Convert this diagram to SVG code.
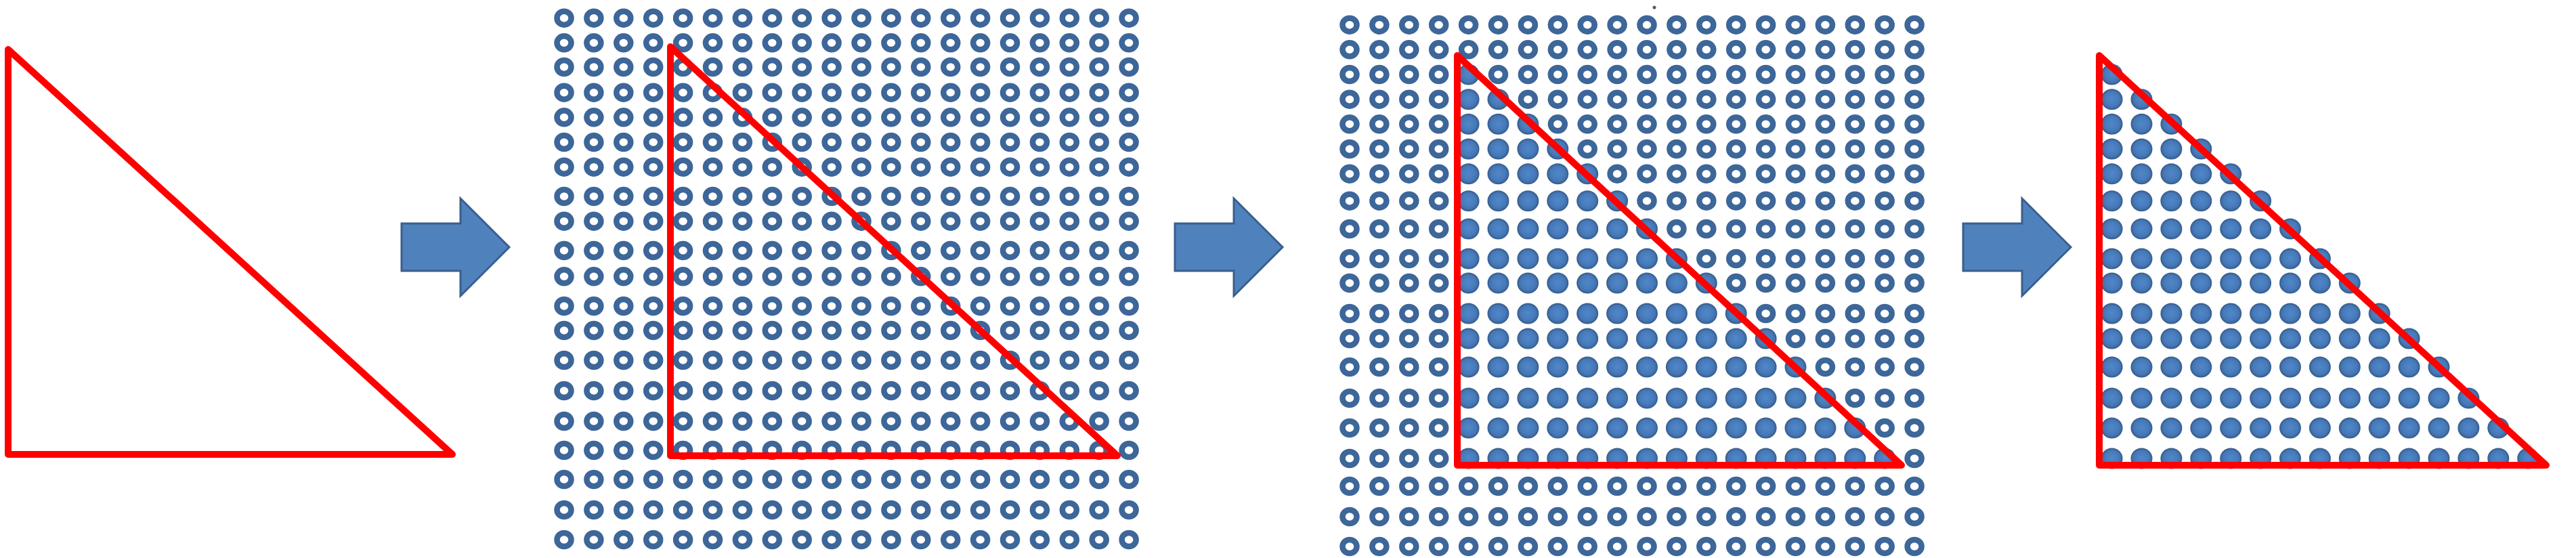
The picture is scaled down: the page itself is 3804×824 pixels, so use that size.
<svg xmlns="http://www.w3.org/2000/svg" xmlns:xlink="http://www.w3.org/1999/xlink" width="3804" height="824" viewBox="0 0 3804 824">
<style>
.tri{fill:none;stroke:#FF0000;stroke-width:10;stroke-linejoin:round}
.arrow{fill:#4F81BD;stroke:#3A5F8C;stroke-width:3;stroke-linejoin:miter}
</style>
<defs>
<radialGradient id="dg" cx="50%" cy="48%" r="55%">
<stop offset="0" stop-color="#4F88CC"/>
<stop offset="0.65" stop-color="#4779B8"/>
<stop offset="1" stop-color="#3A6396"/>
</radialGradient>
<ellipse id="r" rx="10.5" ry="10" fill="none" stroke="#3D6699" stroke-width="8.5"/>
<ellipse id="d" rx="15" ry="14.5" fill="url(#dg)" stroke="#3A6394" stroke-width="2"/>
<g id="row">
<use href="#r" x="0"/><use href="#r" x="43.9"/><use href="#r" x="87.8"/><use href="#r" x="131.7"/><use href="#r" x="175.6"/>
<use href="#r" x="219.5"/><use href="#r" x="263.4"/><use href="#r" x="307.3"/><use href="#r" x="351.2"/><use href="#r" x="395.1"/>
<use href="#r" x="439"/><use href="#r" x="482.9"/><use href="#r" x="526.8"/><use href="#r" x="570.7"/><use href="#r" x="614.6"/>
<use href="#r" x="658.5"/><use href="#r" x="702.4"/><use href="#r" x="746.3"/><use href="#r" x="790.2"/><use href="#r" x="834.1"/>
</g>
<g id="f1"><use href="#d" x="0"/></g>
<g id="f2"><use href="#f1"/><use href="#d" x="43.9"/></g>
<g id="f3"><use href="#f2"/><use href="#d" x="87.8"/></g>
<g id="f4"><use href="#f3"/><use href="#d" x="131.7"/></g>
<g id="f5"><use href="#f4"/><use href="#d" x="175.6"/></g>
<g id="f6"><use href="#f5"/><use href="#d" x="219.5"/></g>
<g id="f7"><use href="#f6"/><use href="#d" x="263.4"/></g>
<g id="f8"><use href="#f7"/><use href="#d" x="307.3"/></g>
<g id="f9"><use href="#f8"/><use href="#d" x="351.2"/></g>
<g id="f10"><use href="#f9"/><use href="#d" x="395.1"/></g>
<g id="f11"><use href="#f10"/><use href="#d" x="439"/></g>
<g id="f12"><use href="#f11"/><use href="#d" x="482.9"/></g>
<g id="f13"><use href="#f12"/><use href="#d" x="526.8"/></g>
<g id="f14"><use href="#f13"/><use href="#d" x="570.7"/></g>
<g id="f15"><use href="#f14"/><use href="#d" x="614.6"/></g>
<g id="filled">
<use href="#f1" y="110"/><use href="#f2" y="146.7"/><use href="#f3" y="183.3"/><use href="#f4" y="220"/><use href="#f5" y="256.7"/>
<use href="#f6" y="296.7"/><use href="#f7" y="338"/><use href="#f8" y="382"/><use href="#f9" y="418"/><use href="#f10" y="463"/>
<use href="#f11" y="500"/><use href="#f12" y="542"/><use href="#f13" y="588"/><use href="#f14" y="632"/><use href="#f15" y="677"/>
</g>
<polygon id="arr" points="0,330 87,330 87,293 159,365 87,437 87,400 0,400"/>
</defs>
<rect width="3804" height="824" fill="#FFFFFF"/>

<g id="stage1-triangle">
<polygon class="tri" points="12,73 12,671 668,671"/>
</g>

<g id="stage2-grid">
<g transform="translate(833,0)">
<use href="#row" y="26.7"/><use href="#row" y="63.3"/><use href="#row" y="99"/><use href="#row" y="136.7"/><use href="#row" y="173.3"/>
<use href="#row" y="210"/><use href="#row" y="246.7"/><use href="#row" y="290"/><use href="#row" y="326.7"/><use href="#row" y="370"/>
<use href="#row" y="408.3"/><use href="#row" y="452"/><use href="#row" y="488"/><use href="#row" y="532"/><use href="#row" y="577"/>
<use href="#row" y="622"/><use href="#row" y="665"/><use href="#row" y="708"/><use href="#row" y="753"/><use href="#row" y="797"/>
</g>
<polygon class="tri" points="990,69 990,673 1650,673"/>
</g>

<g id="stage3-rasterized">
<g transform="translate(1993,0)">
<use href="#row" y="36.7"/><use href="#row" y="73.3"/><use href="#row" y="110"/><use href="#row" y="146.7"/><use href="#row" y="183.3"/>
<use href="#row" y="220"/><use href="#row" y="256.7"/><use href="#row" y="296.7"/><use href="#row" y="338"/><use href="#row" y="382"/>
<use href="#row" y="418"/><use href="#row" y="463"/><use href="#row" y="500"/><use href="#row" y="542"/><use href="#row" y="588"/>
<use href="#row" y="632"/><use href="#row" y="677"/><use href="#row" y="718"/><use href="#row" y="763"/><use href="#row" y="807"/>
</g>
<use href="#filled" x="2168.6"/>
<polygon class="tri" points="2152,82 2152,687 2808,687"/>
<circle cx="2443" cy="11" r="2.5" fill="#555A66"/>
</g>

<g id="stage4-result">
<use href="#filled" x="3118.6"/>
<polygon class="tri" points="3100,82 3100,687 3760,687"/>
</g>

<g id="connectors">
<use href="#arr" class="arrow" x="593"/>
<use href="#arr" class="arrow" x="1735"/>
<use href="#arr" class="arrow" x="2899"/>
</g>
</svg>
